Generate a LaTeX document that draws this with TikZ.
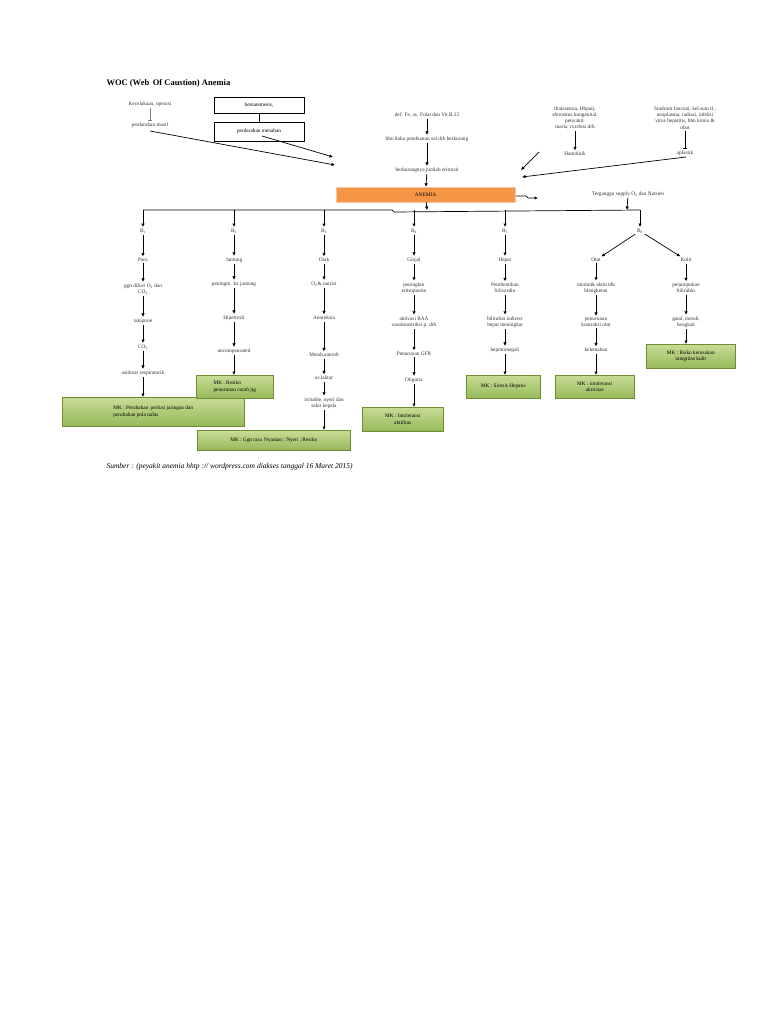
\documentclass[tikz,border=0pt]{standalone}
\usepackage{fontspec}
\setmainfont{Liberation Serif}
\usetikzlibrary{arrows.meta,shadows}
\begin{document}
\begin{tikzpicture}[x=1pt,y=-1pt,
 t/.style={font=\fontsize{5.3}{6.2}\selectfont,align=center,inner sep=1.5pt,text=black!80},
 arr/.style={-{Latex[length=3.5pt,width=3.5pt]},line width=0.7pt},
 tbar/.style={-{Bar[width=4pt]},line width=0.4pt,gray},
 box/.style={draw,line width=0.5pt,minimum width=90pt,minimum height=16pt,font=\fontsize{5.3}{6.2}\selectfont,inner sep=1pt},
 mk/.style={draw={rgb,255:red,110;green,140;blue,50},line width=0.5pt,
   top color={rgb,255:red,200;green,220;blue,150},bottom color={rgb,255:red,150;green,185;blue,90},
   drop shadow={shadow xshift=1pt,shadow yshift=-1pt,fill=black!40},
   font=\fontsize{5.3}{6.2}\selectfont,align=left,inner sep=3pt,anchor=north west}]
\fill[white] (0,0) rectangle (768,1024);
\node[anchor=west,font=\bfseries\fontsize{8.5}{10}\selectfont] (title) at (103,83) {WOC (Web\, Of Caustion) Anemia};
% top left
\node[t] (kec) at (150,104) {Kecelakaan, operasi};
\node[t] (pmas) at (150,125) {perdarahan masif};
\draw[tbar] (kec) -- (pmas);
\node[box,minimum width=90pt] (hem) at (259,105) {hematemesis,};
\node[box,minimum width=90pt,minimum height=19pt] (pmen) at (259,131.5) {perdarahan menahan};
\draw[line width=0.4pt] (hem) -- (pmen);
\coordinate (in1) at (333,157); \coordinate (in2) at (335,165);
\coordinate (pm1) at (262,136); \coordinate (pm2) at (150,131);
\draw[arr] (pm1) -- (in1);
\draw[arr] (pm2) -- (in2);
% center chain
\node[t] (def) at (427,115) {def. Fe, as. Folat dan Vit.B.12};
\node[t] (bhn) at (427,139) {bhn baku pembuatan sel drh berkurang};
\node[t] (berk) at (427,170) {berkurangnya jumlah eritrosit};
\draw[arr] (def) -- (bhn);
\draw[arr] (bhn) -- (berk);
\node[draw={rgb,255:red,240;green,200;blue,170},fill={rgb,255:red,245;green,150;blue,70},minimum width=179pt,minimum height=15pt,inner sep=0pt,
  drop shadow={shadow xshift=1pt,shadow yshift=-1.5pt,fill=black!25},font=\fontsize{5.3}{6.2}\selectfont] (anemia) at (425.5,194.5) {ANEMIA};
\draw[arr] (berk) -- (anemia);
% right top
\node[t] (thal) at (575,118) {thalasemia, Hbpati,\\sferositus kongenital,\\penyakit.\\maria, rs.trfusi drh};
\node[t] (ham) at (575,154) {Hamolitik};
\draw[arr] (thal) -- (ham);
\coordinate (h1) at (539,152); \coordinate (h2) at (521,170);
\draw[arr] (h1) -- (h2);
\node[t] (sind) at (685,118) {Sindrom fanconi, kel.sum tl.,\\neoplasma, radiasi, infeksi\\virus hepatitis, bhn kimia \&\\obat};
\node[t] (apl) at (685,153) {aplastik};
\draw[tbar,black] (sind) -- (apl);
\coordinate (a1) at (686,157); \coordinate (a2) at (522,177);
\draw[arr] (a1) -- (a2);
\node[t] (terg) at (628,194) {Terganggu supply O\textsubscript{2} dan Nutrien};
\coordinate (sq1) at (516,196); \coordinate (sq2) at (538,198);
\draw[arr] (sq1) -- (526,196) -- (528,198) -- (sq2);
% main bar
\coordinate (bl) at (143,210); \coordinate (br) at (640,210);
\coordinate (ad) at (427,210);
\draw[arr] (anemia) -- (ad);
\draw[line width=0.7pt] (bl) -- (392,210) -- (394,212) -- (br);
\coordinate (tg) at (627,210);
\draw[arr] (terg) -- (tg);
\foreach \x/\n/\i in {143/b1/1,234/b2/2,324/b3/3,414/b4/4,505/b5/5,640/b6/6}{
  \node[t] (\n) at (\x,231) {B\textsubscript{\i}};
  \coordinate (\n t) at (\x,210);
  \draw[arr] (\n t) -- (\n);
}
% column 1
\node[t] (paru) at (143,260) {Paru};
\node[t] (ggn) at (143,289) {ggn difusi O\textsubscript{2} dan\\CO\textsubscript{2}};
\node[t] (taki) at (143,321) {takipnoe};
\node[t] (co2) at (143,347) {CO\textsubscript{2}};
\node[t] (asid) at (143,373) {asidosis respiratorik};
\node[mk,minimum width=182pt,minimum height=29pt] (mk1) at (62,397) {MK : Perubahan\, perfusi jaringan dan\\perubahan pola nafas};
\foreach \a/\b in {b1/paru,paru/ggn,ggn/taki,taki/co2,co2/asid}{\draw[arr] (\a) -- (\b);}
\coordinate (mk1t) at (143,397); \draw[arr] (asid) -- (mk1t);
% column 2
\node[t] (jant) at (234,260) {Jantung};
\node[t] (pkj) at (234,284) {peningtn. kx jantung};
\node[t] (hip) at (234,318) {Hipertrofi};
\node[t] (unc) at (234,351) {uncompensated};
\node[mk,minimum width=77pt,minimum height=23pt] (mk2) at (196,375) {MK : Resiko\\penurunan curah jtg};
\foreach \a/\b in {b2/jant,jant/pkj,pkj/hip,hip/unc}{\draw[arr] (\a) -- (\b);}
\coordinate (mk2t) at (234,375); \draw[arr] (unc) -- (mk2t);
% column 3
\node[t] (otak) at (324,260) {Otak};
\node[t] (o2n) at (324,284) {O\textsubscript{2}\& nutrisi};
\node[t] (anor) at (324,318) {Anoreksia};
\node[t] (metab) at (324,355) {Metab.anerob};
\node[t] (asl) at (324,378) {as.laktat};
\node[t] (irr) at (324,403) {irritable, nyeri dan\\sakit kepala};
\node[mk,minimum width=153pt,minimum height=20pt] (mk3) at (197,430) {MK : Ggn rasa\, Nyaman ; Nyeri ; Resiko};
\foreach \a/\b in {b3/otak,otak/o2n,o2n/anor,anor/metab,metab/asl,asl/irr}{\draw[arr] (\a) -- (\b);}
\coordinate (mk3t) at (324,430); \draw[arr] (irr) -- (mk3t);
% column 4
\node[t] (ginj) at (414,260) {Ginjal};
\node[t] (pen) at (414,288) {peningktn\\eritropoetin};
\node[t] (raa) at (414,322) {aktivasi RAA\\vasokonstriksi p. drh};
\node[t] (gfr) at (414,354) {Penurunan GFR};
\node[t] (olig) at (414,380) {Oliguria};
\node[mk,minimum width=81pt,minimum height=24pt,align=center] (mk4) at (362,407) {MK : Intoleransi\\aktifitas};
\foreach \a/\b in {b4/ginj,ginj/pen,pen/raa,raa/gfr,gfr/olig}{\draw[arr] (\a) -- (\b);}
\coordinate (mk4t) at (414,407); \draw[arr] (olig) -- (mk4t);
% column 5
\node[t] (hep) at (505,260) {Hepar};
\node[t] (pemb) at (505,288) {Pembentikan\\biliverdin};
\node[t] (bil) at (505,322) {bilirubin indirect\\hepar meningkat};
\node[t] (hept) at (505,350) {hepotomegali};
\node[mk,minimum width=74pt,minimum height=23pt,align=center] (mk5) at (466,375) {MK : Sirosis Hepatis};
\foreach \a/\b in {b5/hep,hep/pemb,pemb/bil,bil/hept}{\draw[arr] (\a) -- (\b);}
\coordinate (mk5t) at (505,375); \draw[arr] (hept) -- (mk5t);
% column 6
\node[t] (otot) at (596,260) {Otot};
\node[t] (kul) at (686,260) {Kulit};
\draw[arr] (b6) -- (otot);
\draw[arr] (b6) -- (kul);
\node[t] (mio) at (596,288) {miotin\& aktin tdk\\blengketan};
\node[t] (kon) at (596,322) {penurunan\\kontraksi otot};
\node[t] (kel) at (596,350) {kelemahan};
\node[mk,minimum width=79pt,minimum height=23pt,align=center] (mk6) at (555,375) {MK : intoleransi\\aktivitas};
\foreach \a/\b in {otot/mio,mio/kon,kon/kel}{\draw[arr] (\a) -- (\b);}
\coordinate (mk6t) at (596,375); \draw[arr] (kel) -- (mk6t);
\node[t] (penu) at (686,288) {penumpukan\\bilirubin};
\node[t] (gat) at (686,322) {gatal, merah,\\bengkak};
\node[mk,minimum width=89pt,minimum height=24pt,align=center] (mk7) at (646,344) {MK : Rsiko kerusakan\\integritas kulit};
\foreach \a/\b in {kul/penu,penu/gat}{\draw[arr] (\a) -- (\b);}
\coordinate (mk7t) at (686,344); \draw[arr] (gat) -- (mk7t);
% source
\node[anchor=west,font=\itshape\fontsize{7.5}{9}\selectfont] (src) at (103,467) {Sumber : (peyakit anemia hhtp :// wordpress.com diakses tanggal 16 Maret 2015)};
\end{tikzpicture}
\end{document}
